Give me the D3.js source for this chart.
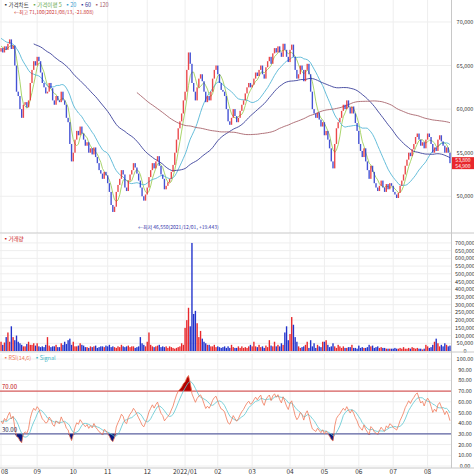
<!DOCTYPE html>
<html><head><meta charset="utf-8">
<script src="https://cdn.jsdelivr.net/npm/d3@7"></script>
<style>body{margin:0;background:#fff}text{font-family:"Noto Sans CJK KR","DejaVu Sans",sans-serif}</style>
</head><body><div id="chart"></div>
<script>
// closes (thousand won) before the visible range, used only for moving averages / RSI
var preCloses = [70.5,71.0,70.2,69.8,70.6,71.4,70.8,70.0,69.5,70.2,71.0,71.6,70.8,70.2,69.6,69.0,69.8,70.4,69.6,69.0,
  68.4,69.2,70.0,69.4,68.8,68.2,68.8,69.4,68.6,68.0,67.4,68.0,68.6,67.8,67.2,66.8,67.4,68.0,67.2,66.6];
var months = ['08','09','10','11','12','2022/01','02','03','04','05','06','07','08'];
var monthCloses = [
  [67.0,66.5,67.2,66.8,67.5,68.0,66.9,67.3,65.0,62.0,61.5,60.0,59.0,60.5,60.8,60.2,61.0,63.0,64.5,65.5,65.0],
  [66.0,65.5,64.2,63.0,62.5,61.8,62.0,63.0,62.4,61.0,60.5,61.5,61.0,60.8,62.0,61.0,60.5,59.0,58.5,56.0,54.0],
  [55.0,56.5,57.5,57.0,58.0,57.2,56.5,55.8,56.2,55.0,55.5,54.8,55.6,54.5,53.8,53.0,52.6,52.0,52.8,52.4],
  [51.5,50.5,49.0,48.2,48.8,50.5,51.3,52.0,53.0,52.5,51.0,50.6,51.8,52.5,53.0,53.8,53.3,52.6,51.8,51.0,50.0,49.5,50.2],
  [51.0,52.2,53.0,53.8,53.2,54.0,54.6,53.5,52.5,52.0,50.8,51.2,51.6,52.0,52.8,53.6,55.0,56.5,57.8,58.6,59.5,61.0],
  [62.0,64.5,66.5,65.2,63.0,62.0,61.0,62.5,63.5,64.0,63.2,62.0,60.8,61.5,61.0,62.0,63.5,64.5,65.0],
  [64.0,63.0,62.2,62.0,61.5,60.0,58.6,58.2,59.0,60.0,59.2,58.5,59.0,59.8,60.5,61.0,61.8,62.5,63.0,62.5],
  [62.8,63.5,64.2,63.8,64.5,65.0,64.0,63.5,64.8,65.5,66.0,65.2,66.4,67.0,66.5,67.2,66.5,66.0,67.5,66.8,66.0,65.4],
  [66.8,67.4,66.0,64.5,63.5,64.0,65.0,64.5,63.2,64.5,65.2,64.0,62.0,60.0,59.5,59.0,59.6,58.8,58.0,58.5],
  [57.0,57.5,56.5,55.5,54.0,53.2,56.0,57.8,58.5,59.0,59.8,60.5,60.0,61.0,60.2,59.5,60.3,59.5,58.4,57.5],
  [56.0,55.2,54.5,55.5,54.0,53.0,52.0,53.5,52.8,51.5,51.0,50.6,51.2,51.8,51.0,50.5,51.4,50.8,51.5,51.2],
  [50.5,50.2,49.8,50.4,51.2,51.8,52.5,53.5,54.2,55.0,54.6,55.4,56.0,56.8,57.2,56.5,55.8,56.2,55.5,56.5],
  [57.2,56.8,56.0,55.0,55.6,55.2,56.5,57.0,56.3,55.8,55.0,55.6,55.0,53.8]
];
var monthVolumes = [
  [60,40,55,90,120,60,160,90,70,100,60,50,40,30,30,45,60,40,40,50,35],
  [50,30,25,30,25,40,90,35,25,30,30,40,25,25,50,40,60,45,70,80,40],
  [60,30,30,35,50,40,35,25,25,20,30,25,30,35,20,25,30,30,25,35],
  [30,40,25,30,25,20,30,25,40,30,25,30,35,25,30,30,20,25,30,90,50,40,30],
  [60,120,40,30,25,30,35,40,25,30,25,30,20,30,25,20,15,20,25,30,50,40],
  [150,200,280,160,700,240,260,180,90,130,80,60,50,40,40,30,30,40,25],
  [30,25,20,25,30,20,30,20,40,25,20,20,30,20,30,20,25,20,30,40],
  [30,60,30,25,40,25,30,20,35,25,70,35,30,60,30,40,30,50,40,120,160,70],
  [110,220,170,90,60,30,20,25,30,40,60,20,70,30,50,20,40,30,25,60],
  [60,70,40,25,30,50,30,20,40,30,20,30,20,20,25,25,40,20,20,15],
  [35,20,25,20,20,25,40,30,35,20,25,30,20,25,20,20,15,15,15,15],
  [15,20,15,15,20,15,25,15,15,20,15,25,20,15,20,15,15,10,15,40],
  [30,20,25,40,60,80,50,30,40,30,50,40,30,35]
];
var priceTicks = [50000,55000,60000,65000,70000];
var volTicks = d3.range(0,750000,50000);
var rsiTicks = d3.range(0,101,10);
var maPeriods = [5,20,60,120];
var maColors = ['#9fcf5a','#56b7d6','#3a3f9a','#a8646c'];
var legendItems = [['▪가격차트','#333'],['▪가격이평 5','#6aa84f'],['▪20','#3c9fd0'],['▪60','#3a3f9a'],['▪120','#a8646c']];

var W = 474, H = 476, PR = 451;
var closes = [], volumes = [], monthStart = [];
monthCloses.forEach(function(m,i){ monthStart.push(closes.length); m.forEach(function(c){ closes.push(c*1000); }); });
monthVolumes.forEach(function(m){ m.forEach(function(v){ volumes.push(v*1000); }); });
var all = preCloses.map(function(c){return c*1000;}).concat(closes), off = preCloses.length;
var N = closes.length;

var svg = d3.select('#chart').append('svg').attr('width',W).attr('height',H);
var x = d3.scaleBand().domain(d3.range(N)).range([0,PR]).padding(0.2);
var cx = function(i){ return x(i) + x.bandwidth()/2; };
var yP = d3.scaleLinear().domain([45900,72520]).range([232,0]);
var yV = d3.scaleLinear().domain([0,758000]).range([351,234]);
var yR = d3.scaleLinear().domain([0,100]).range([466,359]);
var fmt = d3.format(',');

function panel(y0,y1,scale,ticks,f){
  ticks.forEach(function(t){
    svg.append('line').attr('x1',0).attr('x2',PR).attr('y1',scale(t)).attr('y2',scale(t)).attr('stroke','#eeeeee');
    svg.append('text').attr('x',PR+14).attr('y',scale(t)+2).attr('text-anchor','middle').attr('font-size',5.5).attr('fill','#333').text(f(t));
  });
  monthStart.forEach(function(s){
    svg.append('line').attr('x1',cx(s)).attr('x2',cx(s)).attr('y1',y0).attr('y2',y1).attr('stroke','#eeeeee');
  });
  svg.append('line').attr('x1',0).attr('x2',W).attr('y1',y1).attr('y2',y1).attr('stroke','#c8c8c8');
}
panel(0,233,yP,priceTicks,fmt);
panel(234,352,yV,volTicks,fmt);
panel(354,468,yR,rsiTicks,function(t){return t.toFixed(2);});
svg.append('line').attr('x1',PR+0.5).attr('x2',PR+0.5).attr('y1',0).attr('y2',468).attr('stroke','#c8c8c8');

// moving averages
maPeriods.forEach(function(p,k){
  var pts = [];
  for (var i=0;i<N;i++){ var j=i+off; if (j>=p-1) pts.push([i,d3.mean(all.slice(j-p+1,j+1))]); }
  svg.append('path').attr('d',d3.line().x(function(d){return cx(d[0]);}).y(function(d){return yP(d[1]);})(pts))
    .attr('fill','none').attr('stroke',maColors[k]).attr('stroke-width',0.9);
});

// candles (open = previous close)
var up = function(i){ return closes[i] >= all[i+off-1]; };
svg.selectAll('.c').data(d3.range(N)).enter().append('rect')
  .attr('x',function(i){return x(i);}).attr('width',x.bandwidth())
  .attr('y',function(i){return yP(Math.max(closes[i],all[i+off-1]));})
  .attr('height',function(i){return Math.max(1,Math.abs(yP(closes[i])-yP(all[i+off-1])));})
  .attr('fill',function(i){return up(i)?'#e8282c':'#2233cc';}).attr('opacity',0.85);

// volume
svg.selectAll('.v').data(d3.range(N)).enter().append('rect')
  .attr('x',function(i){return x(i);}).attr('width',x.bandwidth())
  .attr('y',function(i){return yV(volumes[i]);}).attr('height',function(i){return yV(0)-yV(volumes[i]);})
  .attr('fill',function(i){return up(i)?'#e8282c':'#2233cc';});

// RSI 14 (Wilder) and signal 6
var rsiAll = [], ag=0, al=0;
for (var j=1;j<all.length;j++){
  var ch = all[j]-all[j-1], g = Math.max(ch,0), l = Math.max(-ch,0);
  if (j<=14){ ag+=g/14; al+=l/14; } else { ag=(ag*13+g)/14; al=(al*13+l)/14; }
  rsiAll[j] = j>=14 ? 100 - 100/(1+ag/(al||1e-9)) : null;
}
var rsi = d3.range(N).map(function(i){return rsiAll[i+off];});
var sig = d3.range(N).map(function(i){return d3.mean(rsiAll.slice(i+off-5,i+off+1));});
var rl = d3.line().x(function(d,i){return cx(i);}).y(function(d){return yR(d);});
svg.append('path').attr('d',d3.area().x(function(d,i){return cx(i);}).y0(yR(70)).y1(function(d){return yR(Math.max(d,70));})(rsi)).attr('fill','#b30000');
svg.append('path').attr('d',d3.area().x(function(d,i){return cx(i);}).y0(yR(30)).y1(function(d){return yR(Math.min(d,30));})(rsi)).attr('fill','#0a1a80');
svg.append('line').attr('x1',0).attr('x2',PR).attr('y1',yR(70)).attr('y2',yR(70)).attr('stroke','#d23a3a');
svg.append('line').attr('x1',0).attr('x2',PR).attr('y1',yR(30)).attr('y2',yR(30)).attr('stroke','#3a4090');
svg.append('path').attr('d',rl(sig)).attr('fill','none').attr('stroke','#5cc6d0').attr('stroke-width',0.8);
svg.append('path').attr('d',rl(rsi)).attr('fill','none').attr('stroke','#f07a5a').attr('stroke-width',0.8);
svg.append('text').attr('x',2).attr('y',yR(70)-2).attr('font-size',6).attr('fill','#b00').text('70.00');
svg.append('text').attr('x',2).attr('y',yR(30)-2).attr('font-size',6).attr('fill','#224').text('30.00');

// month labels
monthStart.forEach(function(s,k){
  svg.append('text').attr('x',k==0?1:cx(s)).attr('y',474).attr('text-anchor',k==0?'start':'middle').attr('font-size',6.5).attr('fill','#333').text(months[k]);
});

// legends and notes
var lx = 3;
legendItems.forEach(function(it){
  var t = svg.append('text').attr('x',lx).attr('y',7).attr('font-size',5.5).attr('fill',it[1]).text(it[0]);
  lx += t.node().getComputedTextLength() + 3;
});
svg.append('text').attr('x',14).attr('y',14).attr('font-size',5).attr('fill','#c33').text('←최고 71,100(2021/08/13, -21.808)');
svg.append('text').attr('x',138).attr('y',229).attr('font-size',5).attr('fill','#33a').text('←최저 46,550(2021/12/01, +19.443)');
svg.append('text').attr('x',3).attr('y',241).attr('font-size',5.5).attr('fill','#c22').text('▪거래량');
var r1 = svg.append('text').attr('x',3).attr('y',360).attr('font-size',5.5).attr('fill','#f07a5a').text('▪RSI(14,6)');
svg.append('text').attr('x',6+r1.node().getComputedTextLength()).attr('y',360).attr('font-size',5.5).attr('fill','#3cb8c8').text('▪Signal');

// last price box
var last = closes[N-1];
svg.append('rect').attr('x',PR+1).attr('y',yP(last)-6).attr('width',22).attr('height',12).attr('fill','#e8282c');
svg.append('text').attr('x',PR+12).attr('y',yP(last)-1).attr('text-anchor','middle').attr('font-size',5).attr('fill','#fff').text(fmt(last));
svg.append('text').attr('x',PR+12).attr('y',yP(last)+5).attr('text-anchor','middle').attr('font-size',5).attr('fill','#fff').text('54,900');
</script></body></html>
